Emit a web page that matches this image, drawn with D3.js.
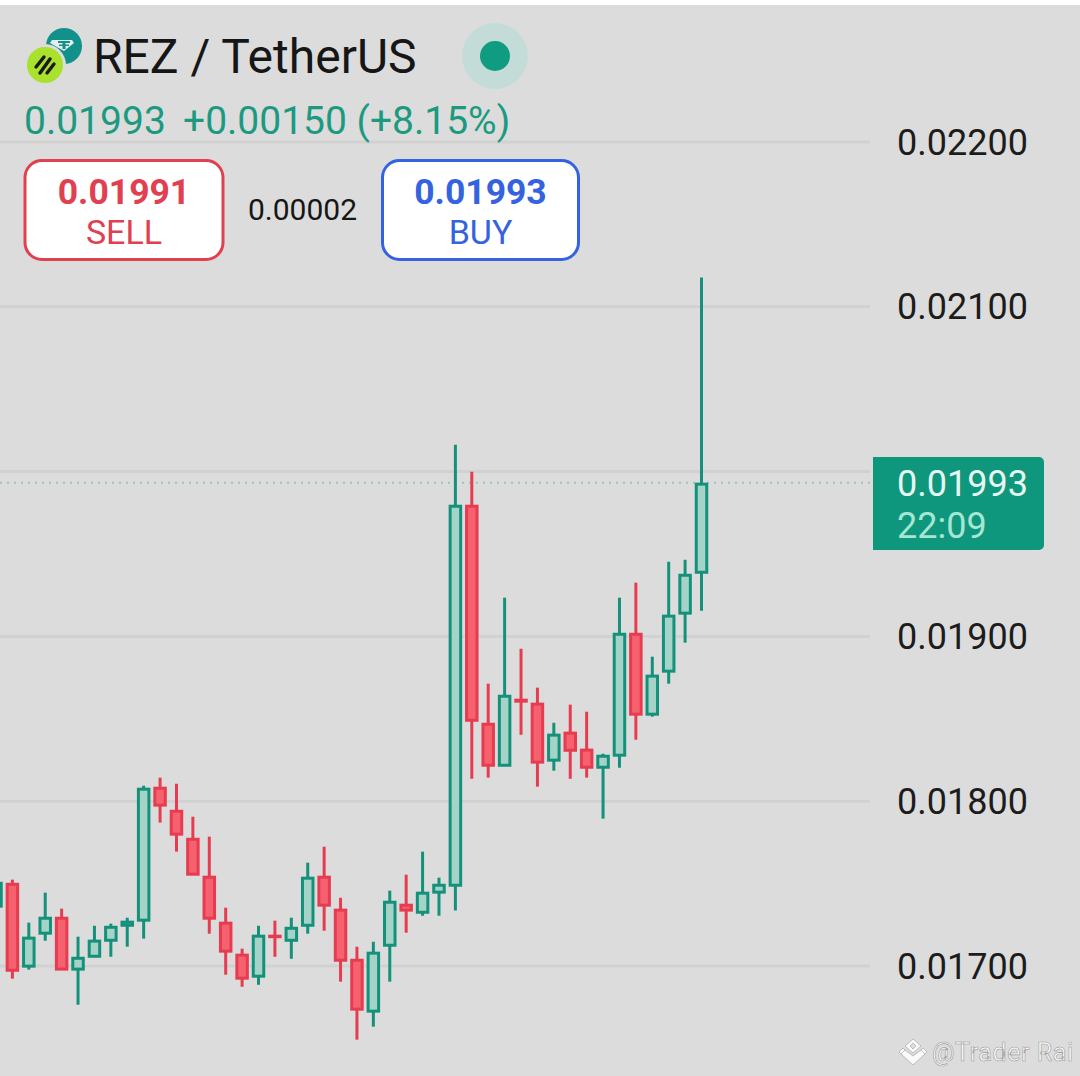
<!DOCTYPE html>
<html>
<head>
<meta charset="utf-8">
<title>REZ / TetherUS</title>
<script src="https://cdn.jsdelivr.net/npm/d3@7"></script>
<style>
    html, body { margin: 0; padding: 0; background: #fff; }
    svg { display: block; }
    text { font-family: Roboto, sans-serif; }
</style>
</head>
<body>
<div id="chart"></div>
<script>
// Valores
const priceTicks = [0.022, 0.021, 0.020, 0.019, 0.018, 0.017];
const opens = [0.017357, 0.017502, 0.016993, 0.017193, 0.017296, 0.016975, 0.017053, 0.017150, 0.017241, 0.017272, 0.018085, 0.017945, 0.017775, 0.017545, 0.017266, 0.017072, 0.016932, 0.017187, 0.017150, 0.017241, 0.017545, 0.017345, 0.017041, 0.016720, 0.017120, 0.017375, 0.017320, 0.017442, 0.017484, 0.019796, 0.018473, 0.018212, 0.018619, 0.018595, 0.018243, 0.018419, 0.018316, 0.018200, 0.018273, 0.019019, 0.018522, 0.018783, 0.019135, 0.019383];
const highs = [0.017514, 0.017521, 0.017260, 0.017442, 0.017345, 0.017175, 0.017241, 0.017254, 0.017290, 0.018091, 0.018140, 0.018103, 0.017903, 0.017782, 0.017351, 0.017102, 0.017241, 0.017272, 0.017290, 0.017624, 0.017721, 0.017411, 0.017114, 0.017144, 0.017454, 0.017551, 0.017691, 0.017533, 0.020160, 0.019996, 0.018710, 0.019232, 0.018922, 0.018686, 0.018473, 0.018583, 0.018540, 0.018285, 0.019232, 0.019323, 0.018874, 0.019450, 0.019462, 0.021174];
const lows = [0.017357, 0.016920, 0.016975, 0.017150, 0.016975, 0.016762, 0.017053, 0.017053, 0.017114, 0.017163, 0.017867, 0.017691, 0.017551, 0.017193, 0.016944, 0.016871, 0.016883, 0.017053, 0.017041, 0.017193, 0.017211, 0.016902, 0.016550, 0.016629, 0.016902, 0.017199, 0.017302, 0.017302, 0.017333, 0.018133, 0.018140, 0.018212, 0.018400, 0.018085, 0.018182, 0.018133, 0.018140, 0.017891, 0.018200, 0.018370, 0.018510, 0.018710, 0.018959, 0.019153];
const closes = [0.017508, 0.016968, 0.017175, 0.017296, 0.016975, 0.017053, 0.017157, 0.017241, 0.017272, 0.018079, 0.017970, 0.017794, 0.017551, 0.017284, 0.017084, 0.016920, 0.017187, 0.017175, 0.017235, 0.017539, 0.017363, 0.017029, 0.016732, 0.017084, 0.017393, 0.017333, 0.017448, 0.017496, 0.019796, 0.018485, 0.018212, 0.018643, 0.018601, 0.018231, 0.018407, 0.018303, 0.018200, 0.018279, 0.019019, 0.018522, 0.018765, 0.019129, 0.019377, 0.019930];
const lastPrice = 0.01993;

const width = 1080;
const height = 1076;
const plotRight = 870;
const bodyWidth = 13.5;
const strokeW = 3;

const upStroke = "#14917b";
const upFill = "#a6d3c7";
const downStroke = "#e73c50";
const downFill = "#f5616f";

const svg = d3.select("#chart")
    .append("svg")
    .attr("width", width)
    .attr("height", height);

// Fondo
svg.append("rect")
    .attr("y", 5)
    .attr("width", width)
    .attr("height", height - 5)
    .attr("fill", "#dcdcdc");

const x = d3.scaleLinear().domain([0, opens.length - 1]).range([-4, 701.5]);
const y = d3.scaleLinear().domain([0.017, 0.022]).range([965.5, 141.5]);

// Eje de precios con las lineas de la reticula
// 0.02000 queda tapado por la etiqueta del ultimo precio, asi que va sin texto
const axis = svg.append("g")
    .attr("transform", `translate(${plotRight},0)`)
    .call(d3.axisRight(y)
        .tickValues(priceTicks)
        .tickSize(-plotRight)
        .tickPadding(27)
        .tickFormat(d => d === 0.020 ? "" : d3.format(".5f")(d)));
axis.select(".domain").remove();
axis.selectAll("line").attr("stroke", "#d1d1d1").attr("stroke-width", 3);
axis.selectAll("text")
    .attr("dy", "0.35em")
    .attr("fill", "#1c1c1c")
    .style("font-size", "36px")
    .style("font-family", "Roboto, sans-serif");

// Linea punteada del ultimo precio
svg.append("line")
    .attr("x1", 0)
    .attr("x2", plotRight)
    .attr("y1", y(lastPrice))
    .attr("y2", y(lastPrice))
    .attr("stroke", "#9cc6bb")
    .attr("stroke-width", 2)
    .attr("stroke-dasharray", "2,5");

// Velas
const candles = svg.append("g")
    .selectAll("g")
    .data(opens.map((o, i) => ({ i, o, h: highs[i], l: lows[i], c: closes[i] })))
    .enter()
    .append("g");

candles.append("line")
    .attr("x1", d => x(d.i))
    .attr("x2", d => x(d.i))
    .attr("y1", d => y(d.h))
    .attr("y2", d => y(d.l))
    .attr("stroke", d => d.c >= d.o ? upStroke : downStroke)
    .attr("stroke-width", 3);

candles.append("rect")
    .attr("x", d => x(d.i) - bodyWidth / 2 + strokeW / 2)
    .attr("y", d => y(Math.max(d.o, d.c)) + strokeW / 2)
    .attr("width", bodyWidth - strokeW)
    .attr("height", d => Math.max(0.5, Math.abs(y(d.o) - y(d.c)) - strokeW + 1))
    .attr("fill", d => d.c >= d.o ? upFill : downFill)
    .attr("stroke", d => d.c >= d.o ? upStroke : downStroke)
    .attr("stroke-width", strokeW);

// Etiqueta del ultimo precio
svg.append("path")
    .attr("d", "M873,457H1039a5,5 0 0 1 5,5V545a5,5 0 0 1 -5,5H873Z")
    .attr("fill", "#0f977d");
svg.append("text")
    .attr("x", 897)
    .attr("y", 496)
    .attr("fill", "#e6f7f2")
    .style("font-size", "36px")
    .text(d3.format(".5f")(lastPrice));
svg.append("text")
    .attr("x", 897)
    .attr("y", 538)
    .attr("fill", "#a5e6d4")
    .style("font-size", "36px")
    .text("22:09");

// Iconos de las monedas
const icons = svg.append("g");
icons.append("circle").attr("cx", 64).attr("cy", 46).attr("r", 18).attr("fill", "#12918a");
icons.append("path")
    .attr("d", "M52,40H72L74,43L64,51L50,43Z")
    .attr("fill", "#e4efec");
icons.append("path")
    .attr("d", "M58,41H70V43H65.5V44.5H69V46H65.5V49H62.5V46H59V44.5H62.5V43H58Z")
    .attr("fill", "#12918a");
icons.append("circle").attr("cx", 45).attr("cy", 65).attr("r", 21).attr("fill", "#dcdcdc");
icons.append("circle").attr("cx", 45).attr("cy", 65).attr("r", 18).attr("fill", "#a8e22c");
icons.append("path")
    .attr("d", "M36,67L44,57 M40,73L50,59 M47,73L54,64")
    .attr("fill", "none")
    .attr("stroke", "#1a1a1a")
    .attr("stroke-width", 3.4)
    .attr("stroke-linecap", "round");

// Cabecera
svg.append("text")
    .attr("x", 93)
    .attr("y", 73)
    .attr("fill", "#161616")
    .style("font-size", "48px")
    .text("REZ / TetherUS");

svg.append("circle").attr("cx", 495).attr("cy", 56).attr("r", 33).attr("fill", "#c4dcd7");
svg.append("circle").attr("cx", 495).attr("cy", 56).attr("r", 15).attr("fill", "#0f9c80");

svg.append("text")
    .attr("x", 24)
    .attr("y", 134)
    .attr("fill", "#1c9a80")
    .style("font-size", "39px")
    .text("0.01993");
svg.append("text")
    .attr("x", 183)
    .attr("y", 134)
    .attr("fill", "#1c9a80")
    .style("font-size", "39px")
    .text("+0.00150 (+8.15%)");

// Botones de venta y compra
function priceButton(left, w, color, price, label) {
    svg.append("rect")
        .attr("x", left)
        .attr("y", 160.5)
        .attr("width", w)
        .attr("height", 99)
        .attr("rx", 17)
        .attr("fill", "#fff")
        .attr("stroke", color)
        .attr("stroke-width", 3);
    svg.append("text")
        .attr("x", left + w / 2)
        .attr("y", 203.5)
        .attr("text-anchor", "middle")
        .attr("fill", color)
        .style("font-size", "35.5px")
        .style("font-weight", "700")
        .text(price);
    svg.append("text")
        .attr("x", left + w / 2)
        .attr("y", 244)
        .attr("text-anchor", "middle")
        .attr("fill", color)
        .style("font-size", "34px")
        .text(label);
}
priceButton(25, 198, "#e0404f", "0.01991", "SELL");
priceButton(382.5, 196, "#3563e0", "0.01993", "BUY");

svg.append("text")
    .attr("x", 302.5)
    .attr("y", 220)
    .attr("text-anchor", "middle")
    .attr("fill", "#161616")
    .style("font-size", "30px")
    .text("0.00002");

// Marca de agua
const mark = svg.append("g").attr("fill", "#fafafa").attr("stroke", "#a8a8a8").attr("stroke-width", 0.7);
mark.append("path").attr("d", "M913,1039L921,1046L913,1053L905,1046Z M913,1043L910,1046L913,1049L916,1046Z").attr("fill-rule", "evenodd");
mark.append("path").attr("d", "M903,1048L907,1052L903,1056L899,1052Z M923,1048L927,1052L923,1056L919,1052Z");
mark.append("path").attr("d", "M913,1056L921,1050L925,1054L913,1065L901,1054L905,1050Z");
svg.append("text")
    .attr("x", 932)
    .attr("y", 1061)
    .attr("fill", "#fafafa")
    .attr("stroke", "#9a9a9a")
    .attr("stroke-width", 0.6)
    .style("font-size", "25px")
    .style("letter-spacing", "0.6px")
    .text("@Trader Rai");
</script>
</body>
</html>
